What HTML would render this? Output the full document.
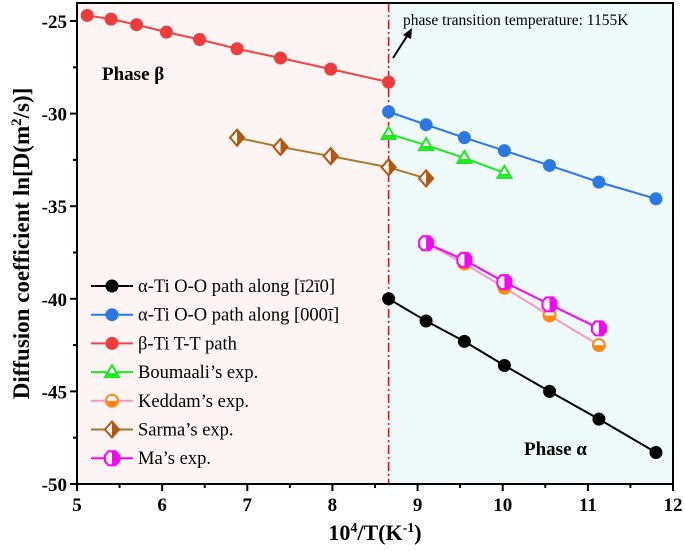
<!DOCTYPE html>
<html><head><meta charset="utf-8"><style>
body{margin:0;background:#fff}
svg{display:block;font-family:"Liberation Serif",serif}
</style></head><body>
<svg id="chart" width="685" height="551" viewBox="0 0 685 551" xmlns="http://www.w3.org/2000/svg">
<g id="layer"></g>
</svg>
<script>
const xTicks=[5,6,7,8,9,10,11,12];
const yTicks=[-25,-30,-35,-40,-45,-50];
const transitionX=8.66;
const redX=[5.12,5.4,5.7,6.05,6.44,6.88,7.39,7.98,8.66];
const redY=[-24.7,-24.9,-25.2,-25.6,-26.0,-26.5,-27.0,-27.6,-28.3];
const alphaX=[8.66,9.1,9.55,10.02,10.55,11.13,11.8];
const blueY=[-29.9,-30.6,-31.3,-32.0,-32.8,-33.7,-34.6];
const blackY=[-40.0,-41.2,-42.3,-43.6,-45.0,-46.5,-48.3];
const greenX=[8.66,9.1,9.55,10.02];
const greenY=[-31.1,-31.7,-32.4,-33.2];
const sarmaX=[6.88,7.39,7.98,8.66,9.1];
const sarmaY=[-31.3,-31.8,-32.3,-32.9,-33.5];
const expX=[9.1,9.55,10.02,10.55,11.13];
const keddamY=[-37.0,-38.1,-39.4,-40.9,-42.5];
const maY=[-37.0,-37.9,-39.1,-40.3,-41.6];

const L=77,R=673,T=3,B=484;
const sx=v=>L+(v-5)*(R-L)/7;
const sy=v=>21+(-25-v)*18.52;
const NS="http://www.w3.org/2000/svg";
const g=document.getElementById('layer');
function el(tag,attrs,parent){const e=document.createElementNS(NS,tag);for(const k in attrs)e.setAttribute(k,attrs[k]);(parent||g).appendChild(e);return e;}

let bg=el('rect',{x:L,y:T,width:sx(transitionX)-L,height:B-T,fill:'#fdf4f4'});


bg=el('rect',{x:sx(transitionX),y:T,width:R-sx(transitionX),height:B-T,fill:'#effafa'});



let tl=el('line',{x1:sx(transitionX),x2:sx(transitionX),y1:T,y2:B,stroke:'#e0141c','stroke-width':1.6,'stroke-dasharray':'9,3,2,3'});



function series(name,xs,ys,color,lineColor,marker){
  const grp=el('g',{});
  
  
  el('polyline',{points:xs.map((x,i)=>sx(x)+','+sy(ys[i])).join(' '),fill:'none',stroke:lineColor,'stroke-width':2},grp);
  xs.forEach((x,i)=>{const m=drawMarker(marker,sx(x),sy(ys[i]),color,grp);
    
    });
}
function drawMarker(type,cx,cy,color,parent){
  const m=el('g',{},parent);
  if(type==='circle'){el('circle',{cx,cy,r:6.5,fill:color},m);}
  else if(type==='tri'){el('polygon',{points:`${cx},${cy-7} ${cx+7},${cy+5} ${cx-7},${cy+5}`,fill:'#fff',stroke:color,'stroke-width':2},m);
    el('rect',{x:cx-5,y:cy+1,width:10,height:3,fill:color},m);}
  else if(type==='half'){el('circle',{cx,cy,r:6,fill:'#fff',stroke:color,'stroke-width':2},m);
    el('path',{d:`M${cx-6},${cy} A6,6 0 0 0 ${cx+6},${cy} Z`,fill:color},m);}
  else if(type==='diamond'){el('polygon',{points:`${cx},${cy-8} ${cx+7},${cy} ${cx},${cy+8} ${cx-7},${cy}`,fill:'#fff',stroke:color,'stroke-width':2},m);
    el('polygon',{points:`${cx},${cy-8} ${cx+7},${cy} ${cx},${cy+8}`,fill:color},m);}
  else if(type==='hex'){el('polygon',{points:`${cx-3.5},${cy-7} ${cx+3.5},${cy-7} ${cx+7},${cy-3} ${cx+7},${cy+3} ${cx+3.5},${cy+7} ${cx-3.5},${cy+7} ${cx-7},${cy+3} ${cx-7},${cy-3}`,fill:'#fff',stroke:color,'stroke-width':2},m);
    el('path',{d:`M${cx},${cy-7} L${cx+3.5},${cy-7} L${cx+7},${cy-3} L${cx+7},${cy+3} L${cx+3.5},${cy+7} L${cx},${cy+7} Z`,fill:color},m);}
  return m;
}
series('sarma-series',sarmaX,sarmaY,'#b5560e','#a57a28','diamond');
series('keddam-series',expX,keddamY,'#ff8a0f','#f59ac8','half');
series('ma-series',expX,maY,'#ff00ff','#ff00ff','hex');
series('boumaali-series',greenX,greenY,'#1ee81e','#1ee81e','tri');
series('beta-tt-series',redX,redY,'#ee3b3b','#ee4444','circle');
series('alpha-0001-series',alphaX,blueY,'#2b78e4','#2b78e4','circle');
series('alpha-1210-series',alphaX,blackY,'#000','#000','circle');

let fr=el('rect',{x:L,y:T,width:R-L,height:B-T,fill:'none',stroke:'#000','stroke-width':2});



xTicks.forEach((v,i)=>{
  el('line',{x1:sx(v),x2:sx(v),y1:B,y2:B+7,stroke:'#000','stroke-width':2});
  if(i<xTicks.length-1)el('line',{x1:sx(v+0.5),x2:sx(v+0.5),y1:B,y2:B+4,stroke:'#000','stroke-width':2});
  const t=el('text',{x:sx(v),y:B+27,'text-anchor':'middle','font-size':19,'font-weight':'bold'});
  t.textContent=v;
  
  
});
yTicks.forEach((v,i)=>{
  el('line',{x1:L-7,x2:L,y1:sy(v),y2:sy(v),stroke:'#000','stroke-width':2});
  if(i<yTicks.length-1)el('line',{x1:L-4,x2:L,y1:sy(v-2.5),y2:sy(v-2.5),stroke:'#000','stroke-width':2});
  const t=el('text',{x:L-10,y:sy(v)+7,'text-anchor':'end','font-size':19,'font-weight':'bold'});
  t.textContent=v;
  
  
});

const legNames=['alpha-1210','alpha-0001','beta-tt','boumaali','keddam','sarma','ma'];
const legText=['α-Ti O-O path along [ī2ī0]','α-Ti O-O path along [000ī]','β-Ti T-T path','Boumaali’s exp.','Keddam’s exp.','Sarma’s exp.','Ma’s exp.'];
const legColor=['#000','#2b78e4','#ee3b3b','#1ee81e','#ff8a0f','#b5560e','#ff00ff'];
const legLine=['#000','#2b78e4','#ee4444','#1ee81e','#f59ac8','#a57a28','#ff00ff'];
const legMarker=['circle','circle','circle','tri','half','diamond','hex'];
legText.forEach((s,i)=>{
  const y=286+i*28.7;
  const lg=el('g',{});
  
  
  el('line',{x1:91,x2:133,y1:y,y2:y,stroke:legLine[i],'stroke-width':2},lg);
  drawMarker(legMarker[i],112,y,legColor[i],lg);
  const t=el('text',{x:138,y:y+6,'font-size':18.5},lg);
  t.textContent=s;
});

let a=el('text',{x:403,y:25,'font-size':15.5});
a.textContent='phase transition temperature: 1155K';


el('line',{x1:393,y1:58,x2:409,y2:33,stroke:'#000','stroke-width':2});
el('polygon',{points:'412,28 403,35 411,39',fill:'#000'});
a=el('text',{x:102,y:80,'font-size':19,'font-weight':'bold'});
a.textContent='Phase β';


a=el('text',{x:524,y:455,'font-size':19,'font-weight':'bold'});
a.textContent='Phase α';



a=el('text',{x:(L+R)/2,y:540,'text-anchor':'middle','font-size':22,'font-weight':'bold'});
a.innerHTML='10<tspan dy="-8" font-size="14">4</tspan><tspan dy="8">/T(K</tspan><tspan dy="-8" font-size="14">-1</tspan><tspan dy="8">)</tspan>';


a=el('text',{x:0,y:0,'text-anchor':'middle','font-size':23,'font-weight':'bold',transform:`translate(29,${(T+B)/2}) rotate(-90)`});
a.innerHTML='Diffusion coefficient ln[D(m<tspan dy="-8" font-size="15">2</tspan><tspan dy="8">/s)]</tspan>';


</script>
</body></html>
